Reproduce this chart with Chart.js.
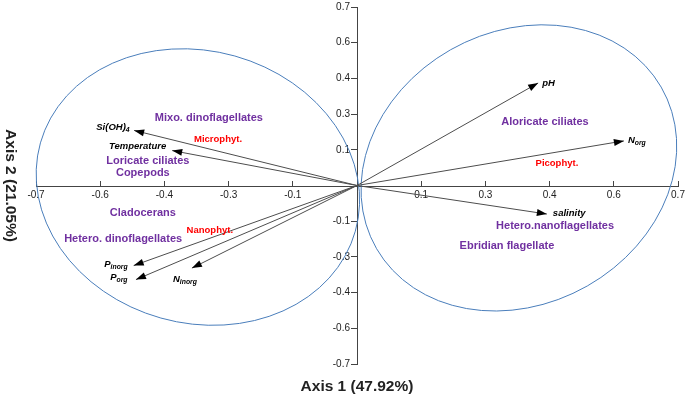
<!DOCTYPE html>
<html>
<head>
<meta charset="utf-8">
<script src="https://cdn.jsdelivr.net/npm/chart.js@4.4.1/dist/chart.umd.min.js"></script>
<style>
html, body { margin: 0; padding: 0; background: #fff; }
#wrap { width: 685px; height: 399px; position: relative; }
</style>
</head>
<body>
<div id="wrap"><canvas id="pcaChart"></canvas></div>
<script>
// variaveis ambientais (setas) - score no eixo 1 e eixo 2
const varMain = ['pH', 'N', 'salinity', 'Si(OH)', 'Temperature', 'P', 'P', 'N'];
const varSub = ['', 'org', '', '4', '', 'inorg', 'org', 'inorg'];
const varAxis1 = [0.395, 0.582, 0.414, -0.486, -0.403, -0.487, -0.482, -0.360];
const varAxis2 = [0.402, 0.175, -0.112, 0.216, 0.137, -0.314, -0.369, -0.324];

// grupos do plancton (roxo)
const groupNames = ['Mixo. dinoflagellates', 'Loricate ciliates', 'Copepods', 'Cladocerans',
    'Hetero. dinoflagellates', 'Aloricate ciliates', 'Hetero.nanoflagellates', 'Ebridian flagellate'];
const groupAxis1 = [-0.323, -0.456, -0.467, -0.467, -0.510, 0.410, 0.432, 0.327];
const groupAxis2 = [0.265, 0.096, 0.049, -0.108, -0.210, 0.249, -0.159, -0.237];

// classes de tamanho do fitoplancton (vermelho)
const sizeNames = ['Microphyt.', 'Nanophyt.', 'Picophyt.'];
const sizeAxis1 = [-0.303, -0.321, 0.436];
const sizeAxis2 = [0.182, -0.175, 0.088];

// as duas elipses: centro, semi-eixos e inclinacao (graus) em unidades dos eixos
const ellipseCx = [-0.347, 0.353];
const ellipseCy = [-0.006, 0.069];
const ellipseRx = [0.350, 0.338];
const ellipseRy = [0.544, 0.565];
const ellipseRot = [6.0, -8.3];

const axisMin = -0.7;
const axisMax = 0.7;
const axisStep = 0.14;

// deslocamento do texto em relacao a ponta da seta (px) - so estilo
const labelOffset = [
    [4, 0, 'left'], [4, -1, 'left'], [6, -1, 'left'], [-4.5, -3.5, 'right'],
    [-6, -4.5, 'right'], [-6, -1.5, 'right'], [-8.5, -2, 'right'], [5, 11, 'right']
];

const FONT = '"Liberation Sans", Arial, sans-serif';

const datasets = [];
varMain.forEach((name, i) => {
    datasets.push({
        kind: 'arrow',
        idx: i,
        data: [{ x: 0, y: 0 }, { x: varAxis1[i], y: varAxis2[i] }],
        borderColor: '#4d4d4d',
        borderWidth: 1,
        pointRadius: 0,
        showLine: true
    });
});
datasets.push({
    kind: 'group',
    data: groupNames.map((n, i) => ({ x: groupAxis1[i], y: groupAxis2[i] })),
    pointRadius: 0,
    showLine: false
});
datasets.push({
    kind: 'size',
    data: sizeNames.map((n, i) => ({ x: sizeAxis1[i], y: sizeAxis2[i] })),
    pointRadius: 0,
    showLine: false
});

function drawSubText(ctx, main, sub, x, y, align, size) {
    const mainFont = 'italic bold ' + size + 'px ' + FONT;
    const subFont = 'italic bold ' + (size * 0.72) + 'px ' + FONT;
    ctx.font = mainFont;
    const w1 = ctx.measureText(main).width;
    ctx.font = subFont;
    const w2 = sub ? ctx.measureText(sub).width : 0;
    let x0 = align === 'right' ? x - w1 - w2 : x;
    ctx.textBaseline = 'middle';
    ctx.textAlign = 'left';
    ctx.font = mainFont;
    ctx.fillText(main, x0, y);
    if (sub) {
        ctx.font = subFont;
        ctx.fillText(sub, x0 + w1, y + 3);
    }
}

const pcaPlugin = {
    id: 'pcaExtras',
    beforeDatasetsDraw(chart) {
        const ctx = chart.ctx;
        const sx = chart.scales.x, sy = chart.scales.y;
        // px por unidade em cada eixo
        const kx = sx.getPixelForValue(1) - sx.getPixelForValue(0);
        const ky = sy.getPixelForValue(0) - sy.getPixelForValue(1);
        ctx.save();
        ctx.strokeStyle = '#4a7ebb';
        ctx.lineWidth = 1;
        for (let i = 0; i < ellipseCx.length; i++) {
            ctx.save();
            ctx.translate(sx.getPixelForValue(ellipseCx[i]), sy.getPixelForValue(ellipseCy[i]));
            ctx.scale(kx, -ky);
            ctx.beginPath();
            ctx.ellipse(0, 0, ellipseRx[i], ellipseRy[i], ellipseRot[i] * Math.PI / 180, 0, Math.PI * 2);
            ctx.restore();
            ctx.stroke();
        }
        ctx.restore();
    },
    afterDatasetsDraw(chart) {
        const ctx = chart.ctx;
        ctx.save();
        chart.data.datasets.forEach((ds, di) => {
            const pts = chart.getDatasetMeta(di).data;
            if (ds.kind === 'arrow') {
                const a = pts[0], b = pts[1];
                const ang = Math.atan2(b.y - a.y, b.x - a.x);
                ctx.save();
                ctx.translate(b.x, b.y);
                ctx.rotate(ang);
                ctx.beginPath();
                ctx.moveTo(0, 0);
                ctx.lineTo(-10, -3.5);
                ctx.lineTo(-10, 3.5);
                ctx.closePath();
                ctx.fillStyle = '#000';
                ctx.fill();
                ctx.restore();
                const off = labelOffset[ds.idx];
                ctx.fillStyle = '#000';
                drawSubText(ctx, varMain[ds.idx], varSub[ds.idx], b.x + off[0], b.y + off[1], off[2], 9.5);
            } else if (ds.kind === 'group' || ds.kind === 'size') {
                const names = ds.kind === 'group' ? groupNames : sizeNames;
                ctx.fillStyle = ds.kind === 'group' ? '#7030a0' : '#ff0000';
                ctx.font = ds.kind === 'group' ? 'bold 11px ' + FONT : 'bold 9.5px ' + FONT;
                ctx.textAlign = 'center';
                ctx.textBaseline = 'middle';
                pts.forEach((p, j) => ctx.fillText(names[j], p.x, p.y));
            }
        });
        ctx.restore();
    },
    afterDraw(chart) {
        const ctx = chart.ctx;
        const area = chart.chartArea;
        ctx.save();
        ctx.fillStyle = '#222';
        ctx.font = 'bold 15.5px ' + FONT;
        ctx.textAlign = 'center';
        ctx.textBaseline = 'middle';
        ctx.fillText('Axis 1 (47.92%)', (area.left + area.right) / 2, 387);
        ctx.translate(10, (area.top + area.bottom) / 2);
        ctx.rotate(Math.PI / 2);
        ctx.fillText('Axis 2 (21.05%)', 0, 0);
        ctx.restore();
    }
};

const tickFmt = v => (Math.abs(v) < 1e-9 ? null : v.toFixed(1));

new Chart(document.getElementById('pcaChart'), {
    type: 'scatter',
    data: { datasets: datasets },
    options: {
        responsive: true,
        maintainAspectRatio: false,
        animation: false,
        layout: { padding: { left: 36, right: 7, top: 7, bottom: 35 } },
        plugins: {
            legend: { display: false },
            tooltip: { enabled: false }
        },
        scales: {
            x: {
                type: 'linear',
                position: 'center',
                min: axisMin,
                max: axisMax,
                afterFit: s => { s.paddingLeft = 0; s.paddingRight = 0; },
                grid: { display: true, drawOnChartArea: false, drawTicks: true, tickLength: -6, color: '#444' },
                border: { display: true, color: '#444', width: 1 },
                ticks: {
                    stepSize: axisStep,
                    autoSkip: false,
                    maxRotation: 0,
                    padding: 10,
                    color: '#222',
                    font: { family: FONT, size: 10 },
                    callback: tickFmt
                }
            },
            y: {
                type: 'linear',
                position: 'center',
                min: axisMin,
                max: axisMax,
                afterFit: s => { s.paddingTop = 0; s.paddingBottom = 0; },
                grid: { display: true, drawOnChartArea: false, drawTicks: true, tickLength: 6, color: '#444' },
                border: { display: true, color: '#444', width: 1 },
                ticks: {
                    stepSize: axisStep,
                    autoSkip: false,
                    padding: 1,
                    color: '#222',
                    font: { family: FONT, size: 10 },
                    callback: tickFmt
                }
            }
        }
    },
    plugins: [pcaPlugin]
});
</script>
</body>
</html>
